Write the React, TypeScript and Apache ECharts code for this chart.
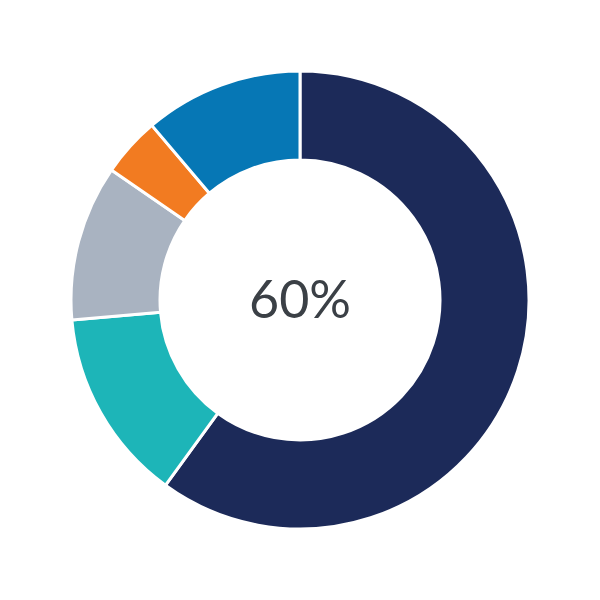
import React, { useEffect, useRef } from "react";
import * as echarts from "echarts";

const categories = ["Navy", "Teal", "Gray", "Orange", "Blue"];
const values = [60, 13.6, 11, 4.2, 11.2];
const colors = ["#1c2a59", "#1db5b8", "#a9b3c1", "#f27b21", "#0677b5"];
const centerLabel = "60%";

export default function App() {
  const ref = useRef<HTMLDivElement>(null);
  useEffect(() => {
    if (!ref.current) return;
    const chart = echarts.init(ref.current, null, { renderer: "svg" });
    chart.setOption({
      animation: false,
      backgroundColor: "#ffffff",
      graphic: [
        {
          type: "text",
          x: 300,
          y: 298,
          style: {
            text: centerLabel,
            align: "center",
            verticalAlign: "middle",
            fontFamily: "Lato",
            fontWeight: "normal",
            fontSize: 52,
            fill: "#3b4046",
          },
        },
      ],
      series: [
        {
          type: "pie",
          center: [300, 300],
          radius: [140, 229],
          startAngle: 90,
          clockwise: true,
          label: { show: false },
          labelLine: { show: false },
          itemStyle: { borderColor: "#ffffff", borderWidth: 3 },
          emphasis: { disabled: true },
          data: categories.map((name, i) => ({
            name,
            value: values[i],
            itemStyle: { color: colors[i] },
          })),
        },
      ],
    });
    return () => chart.dispose();
  }, []);
  return (
    <div
      ref={ref}
      style={{ position: "fixed", left: 0, top: 0, width: 600, height: 600 }}
    />
  );
}
